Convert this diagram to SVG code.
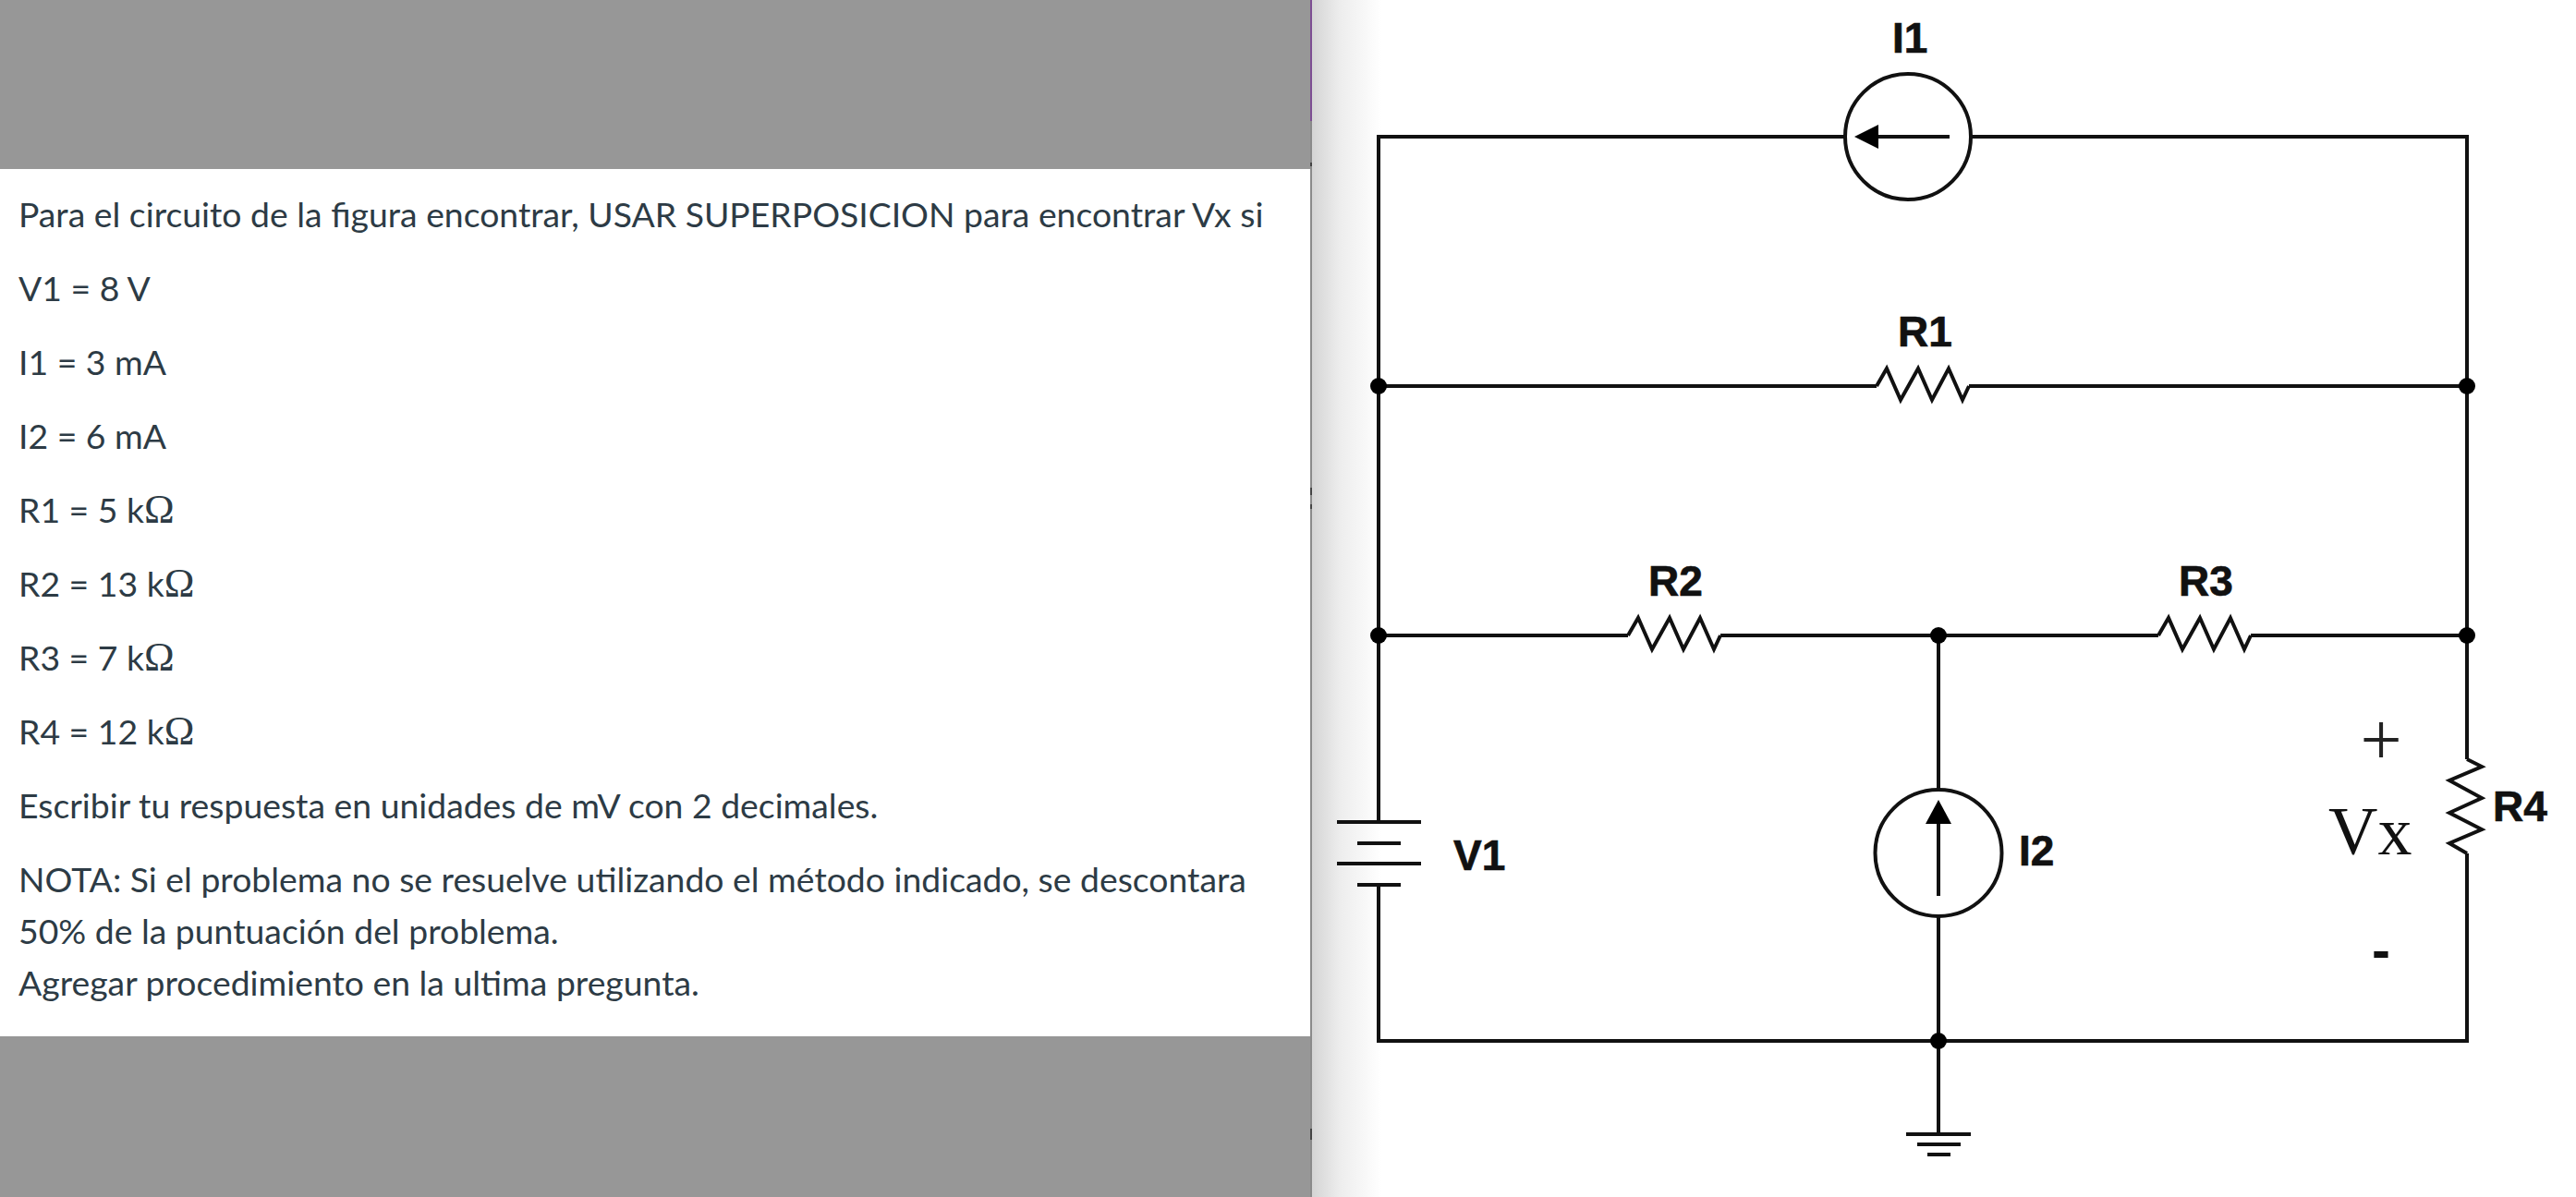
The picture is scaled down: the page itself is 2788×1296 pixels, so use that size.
<svg xmlns="http://www.w3.org/2000/svg" width="2788" height="1296" viewBox="0 0 2788 1296">
<style>
.q{font-family:Lato,"Liberation Sans",sans-serif;font-size:37.35px;fill:#2d3b45}
.o{font-family:"Liberation Serif",serif;font-size:44px}
.l{font-family:"Liberation Sans",Arial,sans-serif;font-weight:700;font-size:46px;fill:#111;stroke:#111;stroke-width:.7}
.w{fill:none;stroke:#111;stroke-width:4;stroke-linejoin:miter}
.d{fill:#000}
.m{fill:#444}
</style>
<defs>
<linearGradient id="sh" x1="0" x2="1" y1="0" y2="0"><stop offset="0" stop-color="#d4d4d4"/><stop offset="0.4" stop-color="#ededed"/><stop offset="1" stop-color="#fff"/></linearGradient>
<path id="zig" d="M0 0L11-19L26 15L45-19L60 15L78-19L93 15L100 0"/>
</defs>
<rect width="2788" height="1296" fill="#fff"/>
<g id="panel">
<rect x="0" y="0" width="1418" height="183" fill="#979797"/>
<rect x="0" y="1122" width="1418" height="174" fill="#979797"/>
<rect x="1418" y="0" width="2" height="1296" fill="#8a8a8a"/>
<rect x="1418" y="0" width="2" height="131" fill="#7d4f93"/>
<rect x="1420" y="0" width="75" height="1296" fill="url(#sh)"/>
<rect class="m" x="1418" y="176" width="2" height="4"/>
<rect class="m" x="1418" y="528" width="2" height="8"/>
<rect class="m" x="1418" y="546" width="2" height="5"/>
<rect class="m" x="1418" y="1222" width="2" height="12"/>
</g>
<g id="question">
<text class="q" x="20" y="246">Para el circuito de la figura encontrar, USAR SUPERPOSICION para encontrar Vx si</text>
<text class="q" x="20" y="326">V1 = 8 V</text>
<text class="q" x="20" y="406">I1 = 3 mA</text>
<text class="q" x="20" y="486">I2 = 6 mA</text>
<text class="q" x="20" y="566">R1 = 5 k<tspan class="o">Ω</tspan></text>
<text class="q" x="20" y="646">R2 = 13 k<tspan class="o">Ω</tspan></text>
<text class="q" x="20" y="726">R3 = 7 k<tspan class="o">Ω</tspan></text>
<text class="q" x="20" y="806">R4 = 12 k<tspan class="o">Ω</tspan></text>
<text class="q" x="20" y="886">Escribir tu respuesta en unidades de mV con 2 decimales.</text>
<text class="q" x="20" y="966">NOTA: Si el problema no se resuelve utilizando el método indicado, se descontara</text>
<text class="q" x="20" y="1022">50% de la puntuación del problema.</text>
<text class="q" x="20" y="1078">Agregar procedimiento en la ultima pregunta.</text>
</g>
<g id="connectors" class="w">
<path d="M1997 148H1492V890"/>
<path d="M2133 148H2670V822"/>
<path d="M1492 418H2031M2131 418H2670"/>
<path d="M1492 688H1762M1862 688H2336M2436 688H2670"/>
<path d="M2098 688V855M2098 992V1228"/>
<path d="M1492 958V1127H2670V924"/>
</g>
<g id="I1"><circle class="w" cx="2065" cy="148" r="68"/><path class="w" d="M2030 148H2110"/><path class="d" d="M2007 148L2033 135V161Z"/><text class="l" x="2048" y="57">I1</text></g>
<g id="R1"><use href="#zig" class="w" x="2031" y="418"/><text class="l" x="2054" y="375">R1</text></g>
<g id="R2"><use href="#zig" class="w" x="1762" y="688"/><text class="l" x="1784" y="645">R2</text></g>
<g id="R3"><use href="#zig" class="w" x="2336" y="688"/><text class="l" x="2358" y="645">R3</text></g>
<g id="R4"><path class="w" d="M2670 822L2686 830L2651 845L2686 864L2651 880L2686 898L2651 913L2670 924"/><text class="l" x="2698" y="889">R4</text></g>
<g id="V1"><path class="w" d="M1447 890H1538M1469 913H1516M1447 935H1538M1469 958H1516"/><text class="l" x="1573" y="942">V1</text></g>
<g id="I2"><circle class="w" cx="2098" cy="923.500" r="68.500"/><path class="w" d="M2098 970V885"/><path class="d" d="M2098 866L2112 892H2084Z"/><text class="l" x="2185" y="937">I2</text></g>
<g id="GND"><path class="w" d="M2063 1228H2133M2075 1239H2122M2086 1250H2111"/></g>
<g id="junctions" class="d">
<circle cx="1492" cy="418" r="9"/><circle cx="2670" cy="418" r="9"/><circle cx="1492" cy="688" r="9"/><circle cx="2098" cy="688" r="9"/><circle cx="2670" cy="688" r="9"/><circle cx="2098" cy="1127" r="9"/>
</g>
<g id="Vx">
<text x="2577" y="828" text-anchor="middle" font-family="Liberation Serif,serif" font-size="80" fill="#222">+</text>
<text x="2520" y="925" font-family="Liberation Serif,serif" font-size="74" fill="#111">Vx</text>
<text x="2577" y="1049" text-anchor="middle" font-family="Liberation Sans,sans-serif" font-weight="700" font-size="60" fill="#111">-</text>
</g>
</svg>
